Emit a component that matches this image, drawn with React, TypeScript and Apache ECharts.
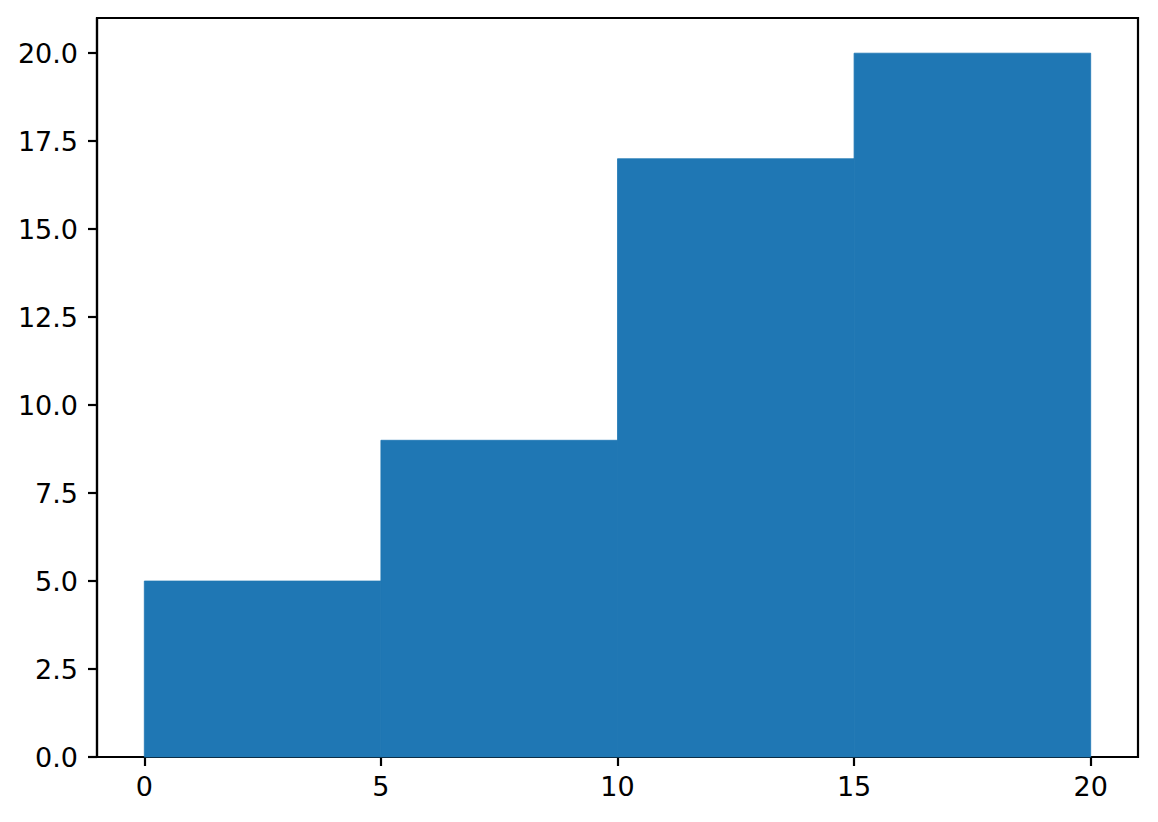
import React, { useEffect, useRef } from "react";
import * as echarts from "echarts";

const binEdges = [0, 5, 10, 15, 20];
const counts = [5, 9, 17, 20];
const xTicks = [0, 5, 10, 15, 20];
const yTicks = [0, 2.5, 5, 7.5, 10, 12.5, 15, 17.5, 20];

export default function App() {
  const ref = useRef<HTMLDivElement>(null);
  useEffect(() => {
    if (!ref.current) return;
    const chart = echarts.init(ref.current, null, { renderer: "svg" });
    const data = counts.map((c, i) => [binEdges[i], binEdges[i + 1], c]);
    const font = { fontFamily: "DejaVu Sans", fontSize: 27, color: "#000" };
    chart.setOption({
      animation: false,
      backgroundColor: "#fff",
      grid: {
        left: 97,
        right: 20,
        top: 18,
        bottom: 65,
        show: true,
        borderColor: "#000",
        borderWidth: 2.2,
        backgroundColor: "transparent",
      },
      xAxis: {
        type: "value",
        min: -1,
        max: 21,
        splitLine: { show: false },
        axisLine: { show: true, onZero: false, lineStyle: { color: "#000", width: 2.2 } },
        axisTick: { show: true, inside: false, length: 9, customValues: xTicks, lineStyle: { color: "#000", width: 2.2 } },
        axisLabel: { ...font, margin: 16, customValues: xTicks, formatter: (v: number) => String(v) },
      },
      yAxis: {
        type: "value",
        min: 0,
        max: 21,
        splitLine: { show: false },
        axisLine: { show: true, onZero: false, lineStyle: { color: "#000", width: 2.2 } },
        axisTick: { show: true, inside: false, length: 9, customValues: yTicks, lineStyle: { color: "#000", width: 2.2 } },
        axisLabel: { ...font, margin: 19, customValues: yTicks, formatter: (v: number) => v.toFixed(1) },
      },
      series: [
        {
          type: "custom",
          data,
          encode: { x: [0, 1], y: 2 },
          renderItem: (params: any, api: any) => {
            const x0 = api.value(0);
            const x1 = api.value(1);
            const h = api.value(2);
            const p0 = api.coord([x0, h]);
            const p1 = api.coord([x1, 0]);
            return {
              type: "rect",
              shape: { x: p0[0], y: p0[1], width: p1[0] - p0[0], height: p1[1] - p0[1] },
              style: { fill: "#1f77b4", stroke: "#1f77b4", lineWidth: 0.8 },
            };
          },
        },
      ],
    });
    return () => chart.dispose();
  }, []);
  return (
    <div
      ref={ref}
      style={{ position: "absolute", left: 0, top: 0, width: 1158, height: 822 }}
    />
  );
}
